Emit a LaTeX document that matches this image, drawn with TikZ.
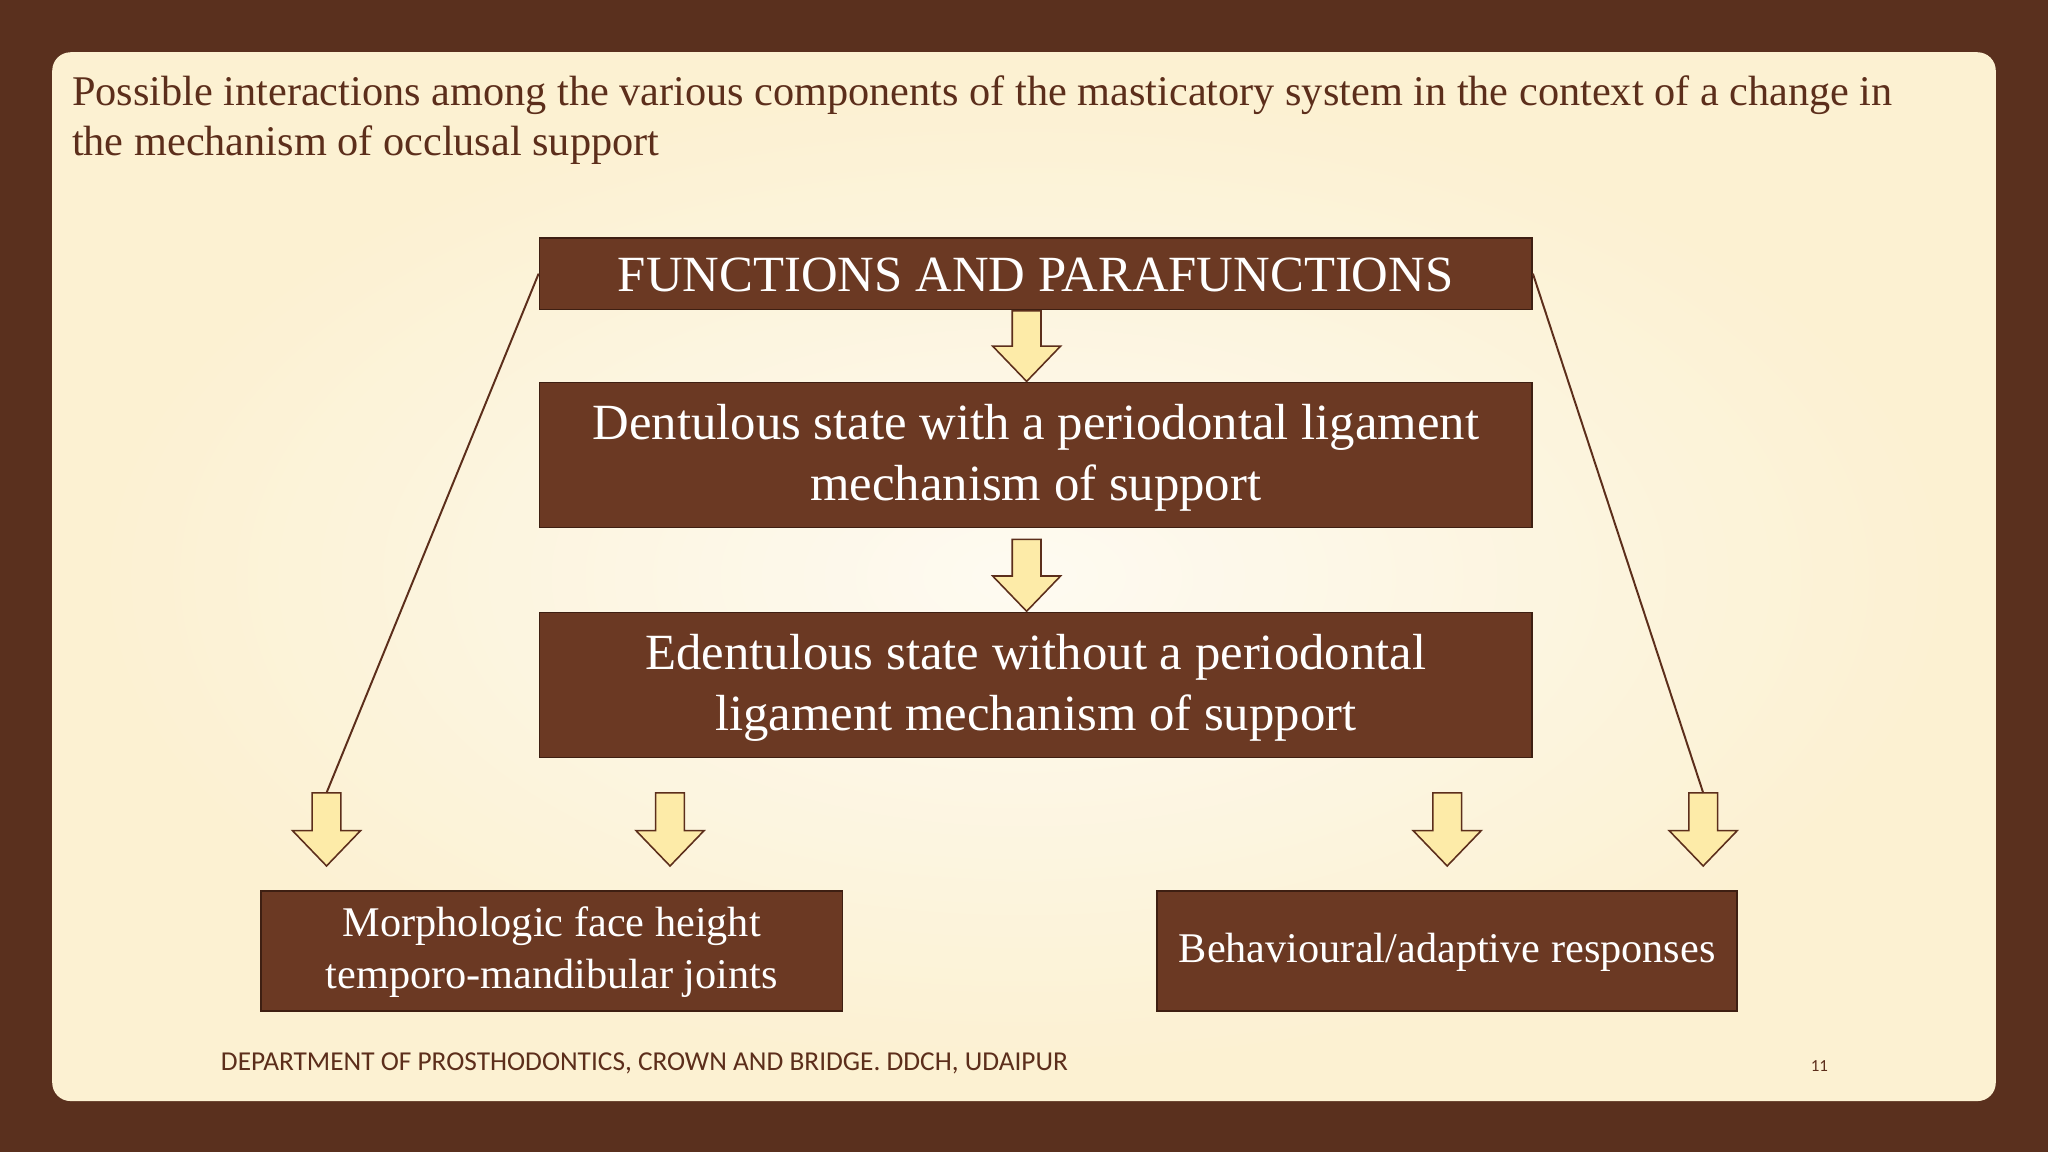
\documentclass[tikz,border=0pt]{standalone}
\usepackage{fontspec}
\setmainfont{Liberation Serif}
\newfontfamily\footfont{Carlito}
\definecolor{bgbrown}{HTML}{5A301E}
\definecolor{panel}{HTML}{FCF1D2}
\definecolor{boxfill}{HTML}{6B3923}
\definecolor{boxline}{HTML}{3E1F12}
\definecolor{arrfill}{HTML}{FDEBA8}
\definecolor{txtbrown}{HTML}{5C2E1B}
\tikzset{
 bx/.style={draw=boxline,line width=1.2bp,fill=boxfill,inner sep=0pt},
 bt/.style={text=white,align=center,inner sep=0pt},
 conn/.style={draw=txtbrown,line width=1.5bp},
}
\newcommand\blockarrow[3]{% x, ytop, ybottom
 \path[draw=txtbrown,line width=1.2bp,fill=arrfill]
 ({#1-11},{#2}) -- ({#1+11},{#2}) -- ({#1+11},{#3-27}) -- ({#1+26},{#3-27}) -- ({#1},{#3}) -- ({#1-26},{#3-27}) -- ({#1-11},{#3-27}) -- cycle;}
\begin{document}
\begin{tikzpicture}[x=1bp,y=-1bp]
\useasboundingbox (0,0) rectangle (1568,882);
\fill[bgbrown] (0,0) rectangle (1568,882);
\fill[panel,rounded corners=14bp] (40,40) rectangle (1528,843);
\shade[inner color=white,outer color=panel,rounded corners=14bp,opacity=0.7] (60,60) rectangle (1508,823);
\node[anchor=north west,text=txtbrown,align=left,font=\fontsize{32.5}{38.5}\selectfont,inner sep=0pt] (title) at (55,58)
 {Possible interactions among the various components of the masticatory system in the context of a change in\\the mechanism of occlusal support};
\node[bx,minimum width=760bp,minimum height=55bp] (b1) at (793,209.5) {};
\node[bt,font=\fontsize{39}{44}\selectfont] (b1t) at ([yshift=-1bp]b1) {FUNCTIONS AND PARAFUNCTIONS};
\node[bx,minimum width=760bp,minimum height=111bp] (b2) at (793,348.5) {};
\node[bt,font=\fontsize{39}{47}\selectfont] (b2t) at ([yshift=-2bp]b2) {Dentulous state with a periodontal ligament\\mechanism of support};
\node[bx,minimum width=760bp,minimum height=111bp] (b3) at (793,524.5) {};
\node[bt,font=\fontsize{39}{47}\selectfont] (b3t) at ([yshift=-2bp]b3) {Edentulous state without a periodontal\\ligament mechanism of support};
\node[bx,minimum width=445bp,minimum height=92bp] (b4) at (422.5,728) {};
\node[bt,font=\fontsize{32.5}{40}\selectfont] (b4t) at ([yshift=-1bp]b4) {Morphologic face height\\temporo-mandibular joints};
\node[bx,minimum width=444bp,minimum height=92bp] (b5) at (1108,728) {};
\node[bt,font=\fontsize{32.5}{40}\selectfont] (b5t) at ([yshift=-1bp]b5) {Behavioural/adaptive responses};
\blockarrow{786}{238}{292}
\blockarrow{786}{413}{468}
\blockarrow{250}{607}{663}
\blockarrow{513}{607}{663}
\blockarrow{1108}{607}{663}
\blockarrow{1304}{607}{663}
\coordinate (l1) at (250,607);
\coordinate (r1) at (1304,607);
\draw[conn] (b1.west) -- (l1);
\draw[conn] (b1.east) -- (r1);
\node[text=txtbrown,font=\footfont\fontsize{21}{24}\selectfont,anchor=west,inner sep=0pt] (foot) at (169,814) {DEPARTMENT OF PROSTHODONTICS, CROWN AND BRIDGE. DDCH, UDAIPUR};
\node[text=txtbrown,font=\footfont\fontsize{13}{14}\selectfont,inner sep=0pt] (pg) at (1393,816) {11};
\end{tikzpicture}
\end{document}
